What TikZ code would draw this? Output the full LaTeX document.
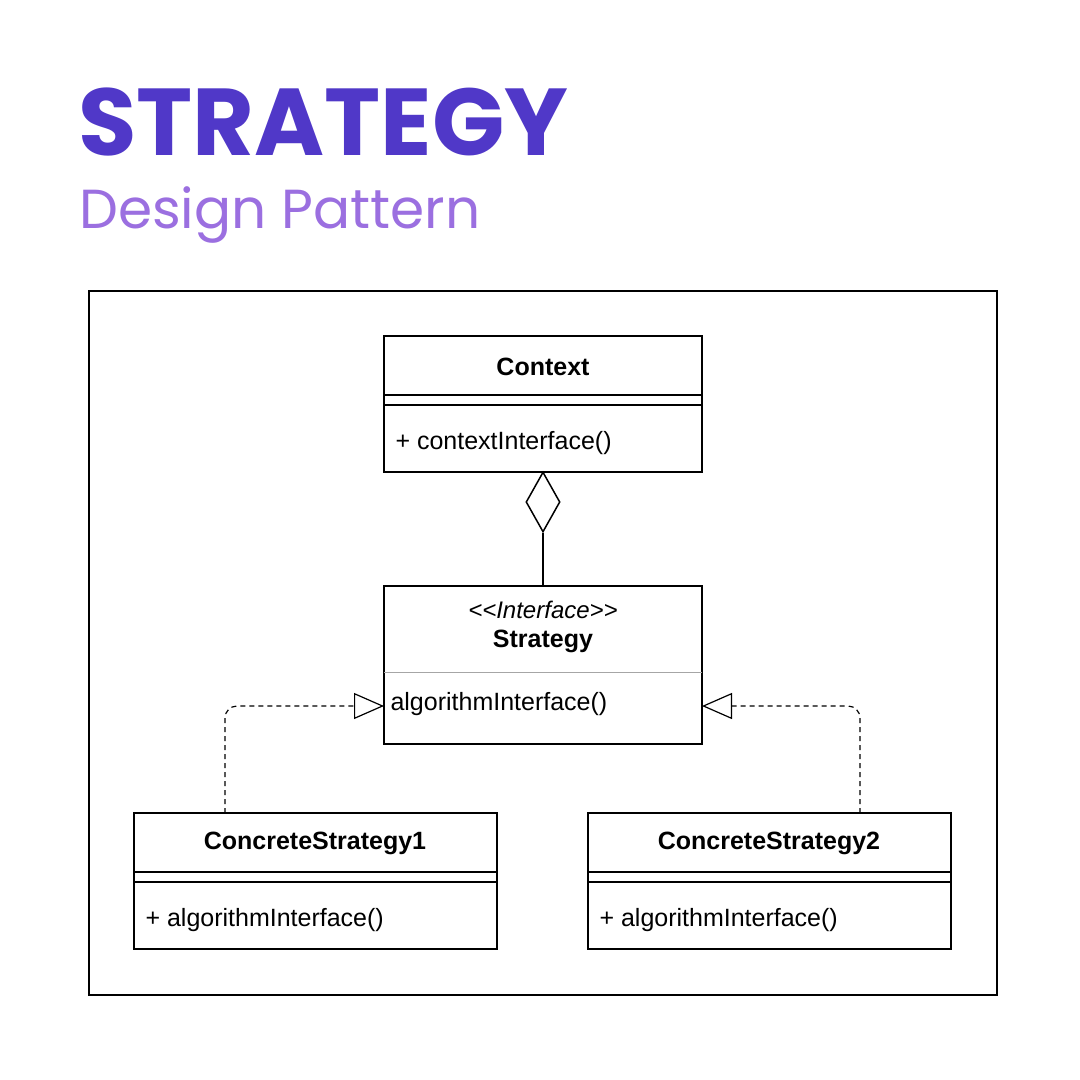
\documentclass[tikz,border=0pt]{standalone}
\usepackage{fontspec}
\setmainfont{Liberation Sans}
\newfontfamily\pop{Poppins}
\usetikzlibrary{arrows.meta,shapes.geometric}
\definecolor{titlec}{HTML}{5038C8}
\definecolor{subc}{HTML}{9B6FE0}
\begin{document}
\begin{tikzpicture}[x=1pt,y=-1pt,
  box/.style={draw,line width=1.5pt},
  ttl/.style={font=\fontsize{25}{28}\selectfont\bfseries,anchor=center},
  meth/.style={font=\fontsize{25}{28}\selectfont,anchor=west},
  real/.style={dashed,dash pattern=on 5pt off 4pt,line width=1.2pt,rounded corners=12pt,-{Triangle[open,length=30pt,width=26pt,line width=1.2pt]}}]
\useasboundingbox (0,0) rectangle (1080,1080);
\node[anchor=base west,inner sep=0,text=titlec,font=\pop\fontsize{95}{99}\selectfont\bfseries] (title) at (78,155) {STRATEGY};
\node[anchor=base west,inner sep=0,text=subc,font=\pop\fontsize{55}{58}\selectfont] (sub) at (79,228) {Design Pattern};
\draw[line width=1.5pt] (89,291) rectangle (997,995);
% Context
\draw[box] (384,336) rectangle (702,472);
\draw[line width=1.5pt] (384,395) -- (702,395) (384,405) -- (702,405);
\node[ttl] (ctx) at (543,367) {Context};
\node[meth] (ctxm) at (392,443) {+ contextInterface()};
\coordinate (ctxb) at (543,472);
% Strategy
\draw[box] (384,586) rectangle (702,744);
\draw[gray!70,line width=1pt] (384,672) -- (702,672);
\node[anchor=center,font=\fontsize{24}{27}\selectfont\itshape] (ster) at (543,610) {{<}{<}Interface{>}{>}};
\node[ttl] (str) at (543,641) {Strategy};
\node[meth] (strm) at (387,704) {algorithmInterface()};
\coordinate (strt) at (543,586);
\coordinate (strl) at (384,706);
\coordinate (strr) at (702,706);
% diamond + line
\node[diamond,draw,line width=1.5pt,minimum width=34pt,minimum height=60pt,inner sep=0,aspect=0.55] (dia) at (543,502) {};
\draw[line width=1.5pt] (dia.south) -- (strt);
% CS1
\draw[box] (134,813) rectangle (497,949);
\draw[line width=1.5pt] (134,872) -- (497,872) (134,882) -- (497,882);
\node[ttl] (cs1) at (315,843) {ConcreteStrategy1};
\node[meth] (cs1m) at (142,920) {+ algorithmInterface()};
\coordinate (cs1t) at (225,813);
% CS2
\draw[box] (588,813) rectangle (951,949);
\draw[line width=1.5pt] (588,872) -- (951,872) (588,882) -- (951,882);
\node[ttl] (cs2) at (769,843) {ConcreteStrategy2};
\node[meth] (cs2m) at (596,920) {+ algorithmInterface()};
\coordinate (cs2t) at (860,813);
\draw[real] (cs1t) |- (strl);
\draw[real] (cs2t) |- (strr);
\end{tikzpicture}
\end{document}
